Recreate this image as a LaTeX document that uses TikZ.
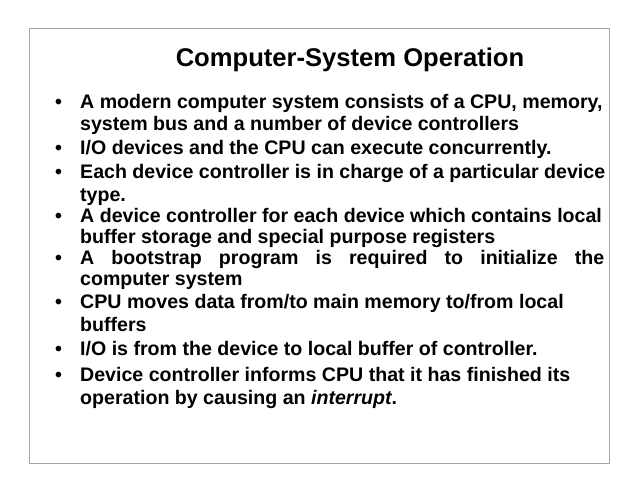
\documentclass[tikz,border=0pt]{standalone}
\usepackage{fontspec}
\setmainfont{Liberation Sans}
\begin{document}
\begin{tikzpicture}[x=1pt,y=-1pt,
  ln/.style={anchor=base west,inner sep=0pt,font=\fontsize{19.6}{22}\selectfont\bfseries},
  bl/.style={anchor=base west,inner sep=0pt,font=\fontsize{19.6}{22}\selectfont\bfseries}]
\useasboundingbox[fill=white] (0,0) rectangle (638,493);
\draw[gray!70,line width=0.8pt] (29,28) rectangle (609,463);
\node[anchor=base,inner sep=0pt,font=\fontsize{25.6}{30}\selectfont\bfseries] (title) at (350,66) {Computer-System Operation};
\foreach \y/\n in {108/1,154/2,178/3,222/4,264/5,308/6,355/7,381/8}
  \node[bl] (b\n) at (55,\y) {•};
\node[ln] (l1) at (80,108) {A modern computer system consists of a CPU, memory,};
\node[ln] (l1b) at (80,130) {system bus and a number of device controllers};
\node[ln] (l2) at (80,154) {I/O devices and the CPU can execute concurrently.};
\node[ln] (l3) at (80,178) {Each device controller is in charge of a particular device};
\node[ln] (l3b) at (80,201) {type.};
\node[ln] (l4) at (80,222) {A device controller for each device which contains local};
\node[ln] (l4b) at (80,243) {buffer storage and special purpose registers};
\node[ln] (l5) at (80,264) {\makebox[524pt][s]{A bootstrap program is required to initialize the}};
\node[ln] (l5b) at (80,285) {computer system};
\node[ln] (l6) at (80,308) {CPU moves data from/to main memory to/from local};
\node[ln] (l6b) at (80,331) {buffers};
\node[ln] (l7) at (80,355) {I/O is from the device to local buffer of controller.};
\node[ln] (l8) at (80,381) {Device controller informs CPU that it has finished its};
\node[ln] (l8b) at (80,404) {operation by causing an \textit{interrupt}.};
\end{tikzpicture}
\end{document}
